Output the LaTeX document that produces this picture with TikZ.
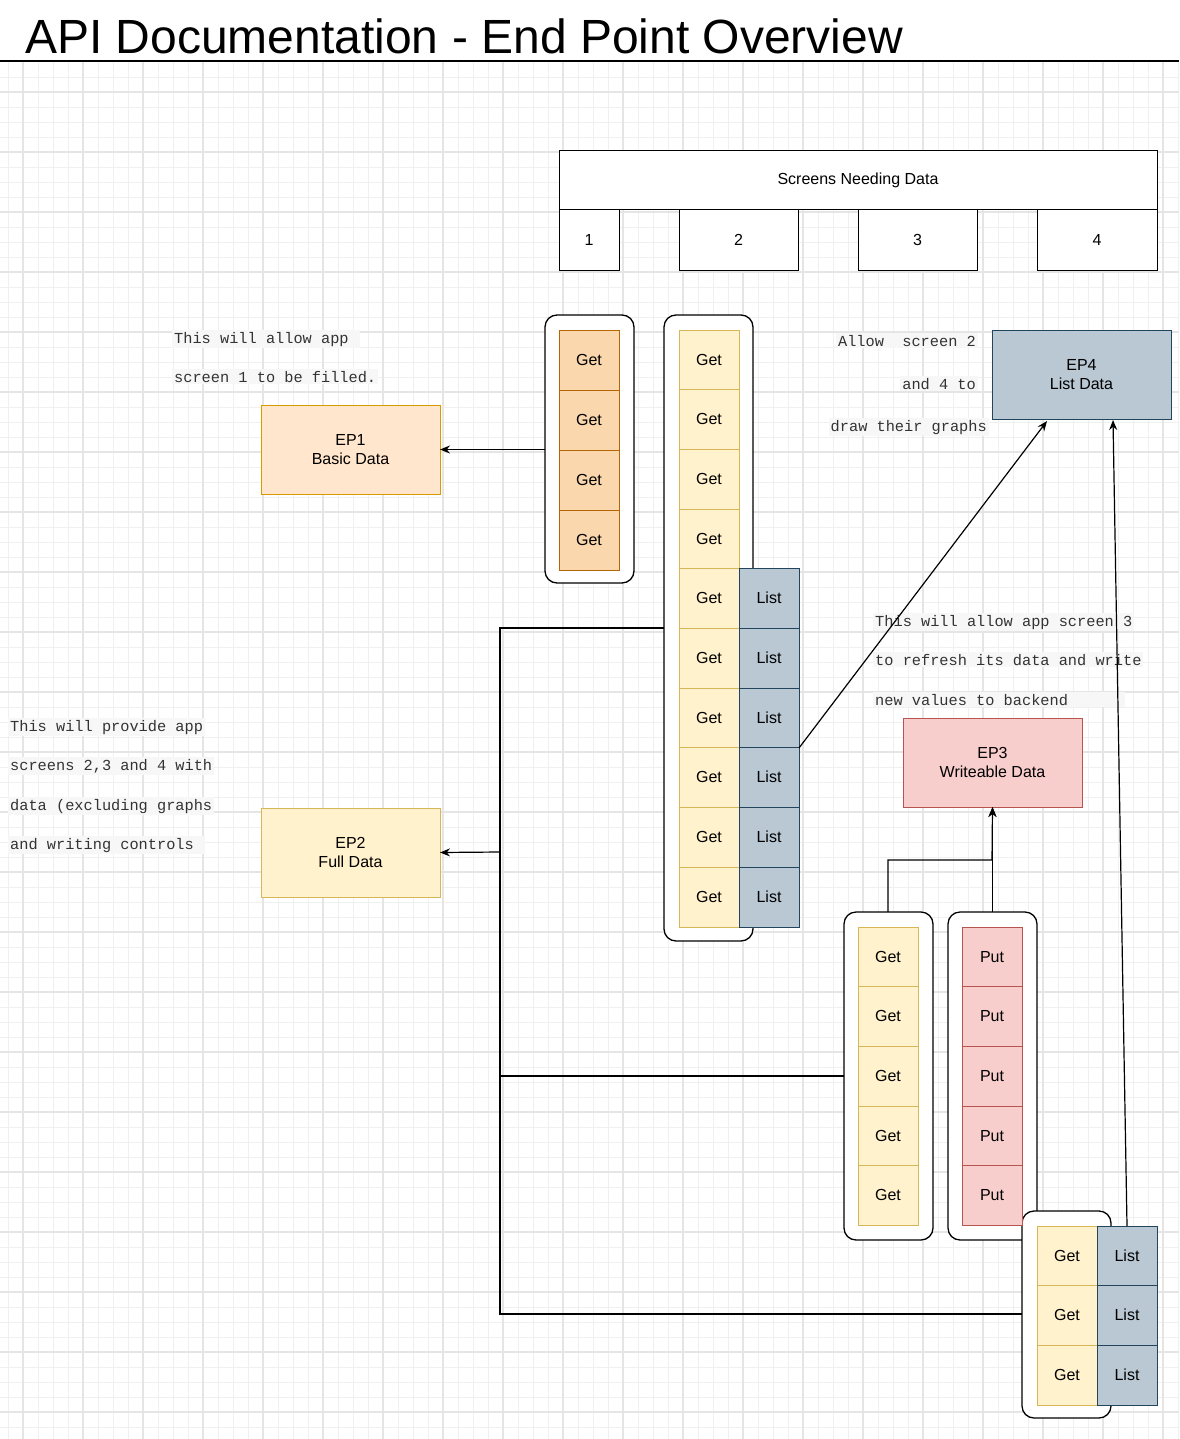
\documentclass[tikz,border=0pt]{standalone}
\usepackage{fontspec}
\setmainfont{Liberation Sans}
\newfontfamily\mono{Liberation Mono}
\usetikzlibrary{arrows.meta}
\definecolor{ofill}{HTML}{FAD7AC}\definecolor{ostroke}{HTML}{B46504}
\definecolor{lofill}{HTML}{FFE6CC}\definecolor{lostroke}{HTML}{D79B00}
\definecolor{yfill}{HTML}{FFF2CC}\definecolor{ystroke}{HTML}{D6B656}
\definecolor{bfill}{HTML}{BAC8D3}\definecolor{bstroke}{HTML}{23445D}
\definecolor{rfill}{HTML}{F8CECC}\definecolor{rstroke}{HTML}{B85450}
\definecolor{txt}{HTML}{333333}
\newcommand\bx[7]{\node[#1, minimum width={(#5-#3)*1pt}, minimum height={(#6-#4)*1pt}] (#2) at ({(#3+#5)/2},{(#4+#6)/2}) {#7};}
\tikzset{
 base/.style={draw, inner sep=0pt, outer sep=0pt, line width=1pt, font=\fontsize{16}{19}\selectfont, align=center},
 plain/.style={base, fill=white},
 cont/.style={base, fill=white, rounded corners=12pt, line width=1.3pt},
 oc/.style={base, fill=ofill, draw=ostroke},
 ep1/.style={base, fill=lofill, draw=lostroke},
 yc/.style={base, fill=yfill, draw=ystroke},
 bc/.style={base, fill=bfill, draw=bstroke},
 rc/.style={base, fill=rfill, draw=rstroke},
 note/.style={anchor=base west, inner sep=2pt, fill=black!3, text=txt, font=\mono\fontsize{15.3}{17}\selectfont},
 notee/.style={note, anchor=base east},
 arr/.style={line width=1.2pt, -{Stealth[length=10pt,width=8pt]}},
 ln/.style={line width=1.2pt},
}
\begin{document}
\begin{tikzpicture}[x=1pt,y=-1pt]
\fill[white] (0,0) rectangle (1179,1439);
\useasboundingbox (0,0) rectangle (1179,1439);
\foreach \x in {8,23,...,1178} \draw[black!6, line width=0.8pt] (\x,61) -- (\x,1439);
\foreach \y in {77,92,...,1439} \draw[black!6, line width=0.8pt] (0,\y) -- (1179,\y);
\foreach \x in {23,83,...,1178} \draw[black!10, line width=1.3pt] (\x,61) -- (\x,1439);
\foreach \y in {92,152,...,1439} \draw[black!10, line width=1.3pt] (0,\y) -- (1179,\y);
\node[anchor=base west, inner sep=0pt, font=\fontsize{48}{52}\selectfont] (title) at (25,54) {API Documentation - End Point Overview};
\draw[line width=1.3pt] (0,61) -- (1179,61);
% screens
\bx{plain}{scr}{559}{151}{1157}{210}{Screens Needing Data}
\bx{plain}{s1}{559}{210}{619}{270}{1}
\bx{plain}{s2}{679}{210}{798}{270}{2}
\bx{plain}{s3}{858}{210}{977}{270}{3}
\bx{plain}{s4}{1037}{210}{1157}{270}{4}
% containers
\bx{cont}{cA}{545}{315}{634}{583}{}
\bx{cont}{cB}{664}{315}{753}{941}{}
\bx{cont}{cC}{844}{912}{933}{1240}{}
\bx{cont}{cD}{948}{912}{1037}{1240}{}
\bx{cont}{cE}{1022}{1211}{1111}{1418}{}
\foreach \i in {0,...,3} {\pgfmathtruncatemacro\a{330+60*\i}\pgfmathtruncatemacro\b{390+60*\i}\bx{oc}{a\i}{559}{\a}{619}{\b}{Get}}
\foreach \i in {0,...,9} {\pgfmathtruncatemacro\a{330+59.7*\i}\pgfmathtruncatemacro\b{390+59.7*\i}\bx{yc}{b\i}{679}{\a}{739}{\b}{Get}}
\foreach \i in {4,...,9} {\pgfmathtruncatemacro\a{330+59.7*\i}\pgfmathtruncatemacro\b{390+59.7*\i}\bx{bc}{bl\i}{739}{\a}{799}{\b}{List}}
\foreach \i in {0,...,4} {\pgfmathtruncatemacro\a{927+59.7*\i}\pgfmathtruncatemacro\b{987+59.7*\i}\bx{yc}{c\i}{858}{\a}{918}{\b}{Get}
  \bx{rc}{d\i}{962}{\a}{1022}{\b}{Put}}
\foreach \i in {0,...,2} {\pgfmathtruncatemacro\a{1226+59.7*\i}\pgfmathtruncatemacro\b{1286+59.7*\i}\bx{yc}{e\i}{1037}{\a}{1097}{\b}{Get}
  \bx{bc}{el\i}{1097}{\a}{1157}{\b}{List}}
% endpoints
\bx{ep1}{ep1}{261}{405}{440}{494}{EP1\\Basic Data}
\bx{yc}{ep2}{261}{808}{440}{897}{EP2\\Full Data}
\bx{rc}{ep3}{903}{718}{1082}{807}{EP3\\Writeable Data}
\bx{bc}{ep4}{992}{330}{1171}{419}{EP4\\List Data}
% notes
\node[note] (n1a) at (172,343) {This will allow app~~};
\node[note] (n1b) at (172,382) {screen 1 to be filled.};
\node[notee] (n4a) at (978,346) {Allow~~screen 2};
\node[notee] (n4b) at (978,389) {and 4 to};
\node[notee] (n4c) at (989,431) {draw their graphs};
\node[note] (n2a) at (8,731) {This will provide app~};
\node[note] (n2b) at (8,770) {screens 2,3 and 4 with};
\node[note] (n2c) at (8,810) {data (excluding graphs};
\node[note] (n2d) at (8,849) {and writing controls~~};
\node[note] (n3a) at (873,626) {This will allow app screen 3};
\node[note] (n3b) at (873,665) {to refresh its data and write};
\node[note] (n3c) at (873,705) {new values to backend~~~~~~~};
% connectors
\coordinate (j1) at (500,628);
\coordinate (j2) at (500,1314);
\coordinate (j3) at (500,852);
\coordinate (j4) at (888,860);
\coordinate (j5) at (992,860);
\draw[arr] (cA.west |- ep1) -- (ep1.east);
\draw[ln] (cB.west |- j1) -- (j1) -- (j2) -- (cE.west |- j2);
\draw[ln] (cC.west) -- (cC.west -| j1);
\draw[arr] (j3) -- (ep2.east);
\draw[arr] (bl6.south east) -- (1047,421);
\draw[arr] (cC.north -| j4) -- (j4) -- (j5) -- (ep3.south);
\draw[arr] (cD.north) -- (ep3.south);
\draw[arr] (el0.north) -- (1113,420);
\end{tikzpicture}
\end{document}
